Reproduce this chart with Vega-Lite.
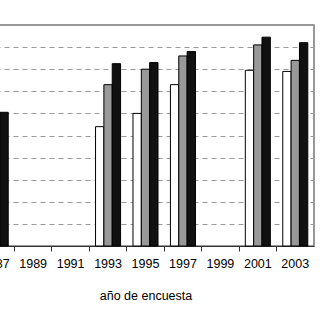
{
  "$schema": "https://vega.github.io/schema/vega-lite/v6.json",
  "width": 337,
  "height": 221,
  "autosize": {"type": "none"},
  "padding": {"left": -23, "top": 25, "right": 6, "bottom": 74},
  "background": "white",
  "data": {
    "values": [
      {"year": "1987", "serie": "A", "value": 45},
      {"year": "1987", "serie": "B", "value": 55},
      {"year": "1987", "serie": "C", "value": 60.5},
      {"year": "1993", "serie": "A", "value": 54},
      {"year": "1993", "serie": "B", "value": 73},
      {"year": "1993", "serie": "C", "value": 82.5},
      {"year": "1995", "serie": "A", "value": 60},
      {"year": "1995", "serie": "B", "value": 80},
      {"year": "1995", "serie": "C", "value": 83},
      {"year": "1997", "serie": "A", "value": 73},
      {"year": "1997", "serie": "B", "value": 86},
      {"year": "1997", "serie": "C", "value": 88},
      {"year": "2001", "serie": "A", "value": 79.5},
      {"year": "2001", "serie": "B", "value": 91},
      {"year": "2001", "serie": "C", "value": 94.5},
      {"year": "2003", "serie": "A", "value": 79},
      {"year": "2003", "serie": "B", "value": 84},
      {"year": "2003", "serie": "C", "value": 92}
    ]
  },
  "mark": {"type": "bar", "stroke": "black", "strokeWidth": 1},
  "encoding": {
    "x": {
      "field": "year",
      "type": "nominal",
      "scale": {
        "domain": ["1987", "1989", "1991", "1993", "1995", "1997", "1999", "2001", "2003"],
        "paddingInner": 0,
        "paddingOuter": 0
      },
      "axis": {
        "title": "año de encuesta",
        "labelAngle": 0,
        "bandPosition": 0,
        "domainColor": "#333",
        "tickColor": "#333",
        "tickSize": 5,
        "labelPadding": 6,
        "labelFontSize": 12.5,
        "labelColor": "black",
        "titleFontSize": 12.5,
        "titleFontWeight": "normal",
        "titleColor": "black",
        "titlePadding": 20
      }
    },
    "xOffset": {
      "field": "serie",
      "type": "nominal",
      "scale": {"domain": ["A", "B", "C"], "paddingInner": 0, "paddingOuter": 0.745}
    },
    "y": {
      "field": "value",
      "type": "quantitative",
      "scale": {"domain": [0, 100], "nice": false},
      "axis": {
        "values": [0, 10, 20, 30, 40, 50, 60, 70, 80, 90, 100],
        "labels": false,
        "ticks": false,
        "domain": false,
        "title": null,
        "grid": true,
        "gridDash": [5, 4],
        "gridColor": "#999"
      }
    },
    "fill": {
      "field": "serie",
      "type": "nominal",
      "scale": {"domain": ["A", "B", "C"], "range": ["white", "#999999", "#111111"]},
      "legend": null
    }
  },
  "config": {
    "font": "Liberation Sans",
    "view": {"stroke": "#777", "strokeWidth": 1.5}
  }
}
